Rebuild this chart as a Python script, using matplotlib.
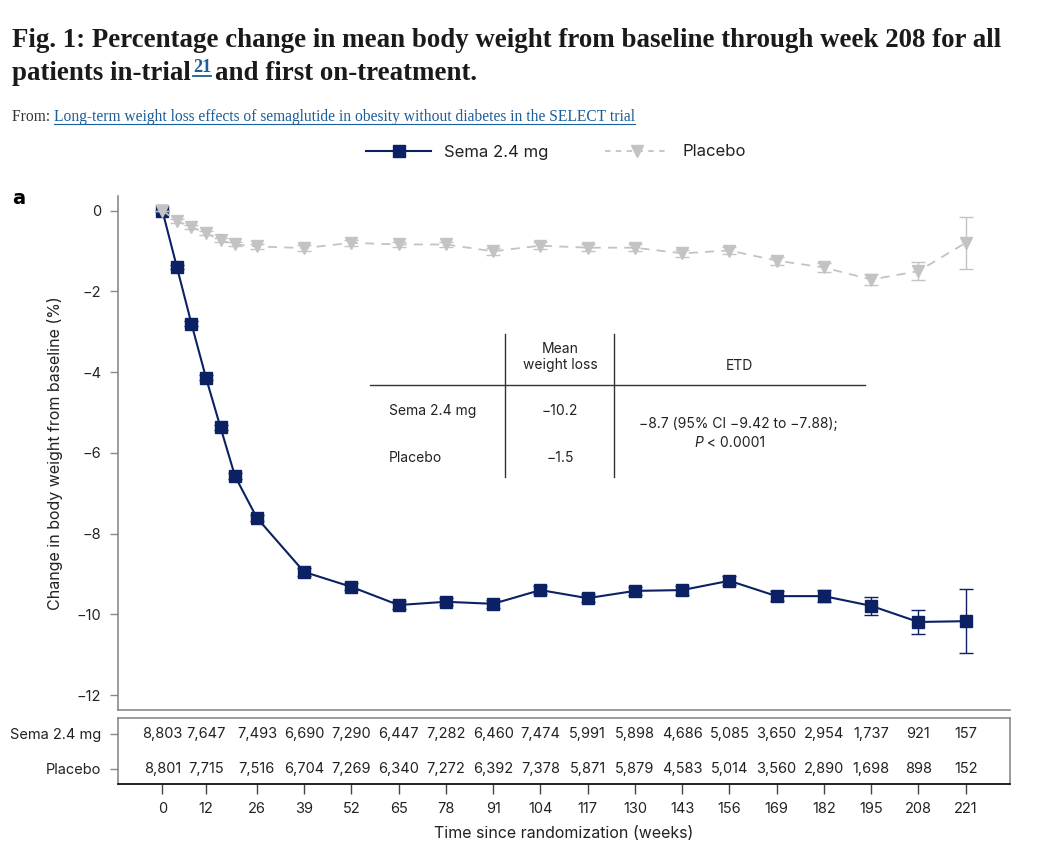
import matplotlib
matplotlib.use("Agg")
import matplotlib.pyplot as plt
from matplotlib.lines import Line2D
import numpy as np

# --- data ---
weeks = [0, 4, 8, 12, 16, 20, 26, 39, 52, 65, 78, 91, 104, 117, 130, 143, 156, 169, 182, 195, 208, 221]
sema = [0.0, -1.40, -2.80, -4.14, -5.37, -6.58, -7.61, -8.95, -9.32, -9.77, -9.69, -9.74,
        -9.40, -9.60, -9.42, -9.40, -9.17, -9.55, -9.55, -9.79, -10.19, -10.17]
sema_err = [0.0, 0.05, 0.06, 0.06, 0.07, 0.07, 0.08, 0.09, 0.09, 0.09, 0.09, 0.10,
            0.10, 0.10, 0.10, 0.11, 0.11, 0.13, 0.14, 0.22, 0.30, 0.80]
placebo = [0.0, -0.26, -0.41, -0.56, -0.73, -0.84, -0.89, -0.93, -0.80, -0.84, -0.84, -1.01,
           -0.87, -0.92, -0.92, -1.06, -0.99, -1.24, -1.41, -1.71, -1.50, -0.80]
placebo_err = [0.0, 0.04, 0.05, 0.05, 0.05, 0.05, 0.06, 0.07, 0.07, 0.07, 0.07, 0.08,
               0.08, 0.08, 0.08, 0.09, 0.09, 0.10, 0.11, 0.14, 0.23, 0.65]

tick_weeks = [0, 12, 26, 39, 52, 65, 78, 91, 104, 117, 130, 143, 156, 169, 182, 195, 208, 221]
n_sema = ["8,803", "7,647", "7,493", "6,690", "7,290", "6,447", "7,282", "6,460", "7,474",
          "5,991", "5,898", "4,686", "5,085", "3,650", "2,954", "1,737", "921", "157"]
n_placebo = ["8,801", "7,715", "7,516", "6,704", "7,269", "6,340", "7,272", "6,392", "7,378",
             "5,871", "5,879", "4,583", "5,014", "3,560", "2,890", "1,698", "898", "152"]
y_ticks = [0, -2, -4, -6, -8, -10, -12]

SEMA_C = "#0b2163"
PLAC_C = "#c3c3c3"
AX_C = "#8a8a8a"
TXT_C = "#222222"
LINK_C = "#1b5e99"

plt.rcParams['font.family'] = ['Inter', 'DejaVu Sans']

W, H = 1051, 858
fig = plt.figure(figsize=(W / 100, H / 100), dpi=100)


def fx(px):
    return px / W


def fy(py):
    return 1 - py / H


def box(l, t, r, b):
    return [fx(l), fy(b), fx(r) - fx(l), fy(t) - fy(b)]


renderer = fig.canvas.get_renderer()


def put(x, y, s, **kw):
    t = fig.text(fx(x), fy(y), s, **kw)
    bb = t.get_window_extent(renderer)
    return t, bb


# --- title ---
serif = ['Liberation Serif', 'DejaVu Serif']
tkw = dict(family=serif, weight='bold', color='#1a1a1a', va='baseline')
line1 = "Fig. 1: Percentage change in mean body weight from baseline through week 208 for all"
t1, bb = put(12, 47, line1, fontsize=19, **tkw)
fs = 19 * 988 / bb.width
t1.set_fontsize(fs)
t2, bb = put(12, 80, "patients in-trial", fontsize=fs, **tkw)
ts, bbs = put(bb.x1 + 2, 72, "21", fontsize=fs * 0.68, family=serif,
              weight='bold', color=LINK_C, va='baseline')
fig.add_artist(Line2D([fx(bbs.x0), fx(bbs.x1)], [fy(75.5), fy(75.5)], color=LINK_C, lw=1.3))
put(bbs.x1 + 4, 80, "and first on-treatment.", fontsize=fs, **tkw)

# --- source line ---
skw = dict(family=serif, fontsize=9.5, va='baseline')
t_from, bb = put(12, 121, "From: ", color='#333333', **skw)
t_link, bbl = put(bb.x1, 121, "Long-term weight loss effects of semaglutide in obesity without diabetes in the SELECT trial",
                  color=LINK_C, **skw)
sfs = 9.5 * 627 / (bbl.x1 - bb.x0)
t_from.set_fontsize(sfs)
bb = t_from.get_window_extent(renderer)
t_link.set_fontsize(sfs)
t_link.set_x(fx(bb.x1))
bbl = t_link.get_window_extent(renderer)
fig.add_artist(Line2D([fx(bbl.x0), fx(bbl.x1)], [fy(124), fy(124)], color=LINK_C, lw=0.8))

# --- main axes ---
ax = fig.add_axes(box(118, 196, 1010, 710))
ax.errorbar(weeks, sema, yerr=sema_err, color=SEMA_C, lw=1.5, marker='s', ms=9,
            capsize=5, elinewidth=1.0, capthick=1.0, zorder=3, label="Sema 2.4 mg")
ax.errorbar(weeks, placebo, yerr=placebo_err, color=PLAC_C, lw=1.3, ls=(0, (5, 4)), marker='v', ms=9,
            capsize=5, elinewidth=1.0, capthick=1.0, zorder=4, label="Placebo")
ax.set_xlim(-12.2, 233.2)
ax.set_ylim(-12.37, 0.36)
ax.set_yticks(y_ticks)
ax.set_yticklabels([str(v).replace('-', '\u2212') for v in y_ticks], fontsize=10.5, color=TXT_C)
ax.set_xticks([])
for s in ['top', 'right']:
    ax.spines[s].set_visible(False)
for s in ['left', 'bottom']:
    ax.spines[s].set_color(AX_C)
    ax.spines[s].set_linewidth(1.2)
ax.tick_params(axis='y', length=6, width=1, color=AX_C, pad=6)

# legend
handles = [
    Line2D([], [], color=SEMA_C, lw=1.5, marker='s', ms=9),
    Line2D([], [], color=PLAC_C, lw=1.3, ls=(0, (3, 3)), marker='v', ms=9),
]
fig.legend(handles, ["Sema 2.4 mg", "Placebo"], loc='center', bbox_to_anchor=(fx(556), fy(152)),
           ncol=2, frameon=False, fontsize=12, handlelength=3.9, handletextpad=0.75,
           columnspacing=3.4, labelcolor=TXT_C)

# panel label
fig.text(fx(12), fy(199), "a", fontsize=14, weight='bold', family='DejaVu Sans', va='center')

# y label
fig.text(fx(55), fy(453), "Change in body weight from baseline (%)", rotation=90,
         ha='center', va='center', fontsize=11.5, color=TXT_C)

# --- inset summary table ---
ikw = dict(fontsize=10, color=TXT_C, va='center')
fig.add_artist(Line2D([fx(505), fx(505)], [fy(334), fy(477)], color='#333333', lw=1))
fig.add_artist(Line2D([fx(614), fx(614)], [fy(334), fy(477)], color='#333333', lw=1))
fig.add_artist(Line2D([fx(370), fx(865)], [fy(385), fy(385)], color='#333333', lw=1))
fig.text(fx(560), fy(357), "Mean\nweight loss", ha='center', linespacing=1.15, **ikw)
fig.text(fx(739), fy(366), "ETD", ha='center', **ikw)
fig.text(fx(389), fy(411), "Sema 2.4 mg", ha='left', **ikw)
fig.text(fx(560), fy(411), "\u221210.2", ha='center', **ikw)
fig.text(fx(389), fy(458), "Placebo", ha='left', **ikw)
fig.text(fx(560), fy(458), "\u22121.5", ha='center', **ikw)
fig.text(fx(738), fy(424), "\u22128.7 (95% CI \u22129.42 to \u22127.88);", ha='center', **ikw)
_, bbp = put(694, 443, "P", style='italic', ha='left', **ikw)
put(bbp.x1, 443, " < 0.0001", ha='left', **ikw)

# --- number-at-risk table axes ---
ax2 = fig.add_axes(box(118, 718, 1010, 784))
ax2.set_xlim(ax.get_xlim())
ax2.set_ylim(-0.43, 1.457)
for w, a, b in zip(tick_weeks, n_sema, n_placebo):
    ax2.text(w, 1, a, ha='center', va='center', fontsize=10.5, color=TXT_C)
    ax2.text(w, 0, b, ha='center', va='center', fontsize=10.5, color=TXT_C)
ax2.set_yticks([1, 0])
ax2.set_yticklabels(["Sema 2.4 mg", "Placebo"], fontsize=10.5, color=TXT_C)
ax2.set_xticks(tick_weeks)
ax2.set_xticklabels([str(w) for w in tick_weeks], fontsize=10.5, color=TXT_C)
for s in ['top', 'left', 'right']:
    ax2.spines[s].set_color(AX_C)
    ax2.spines[s].set_linewidth(1.2)
ax2.spines['bottom'].set_color('#111111')
ax2.spines['bottom'].set_linewidth(1.3)
ax2.tick_params(axis='y', length=6, width=1, color=AX_C, pad=6)
ax2.tick_params(axis='x', length=7, width=1, color='#444444', pad=6)

fig.text(fx(564), fy(834), "Time since randomization (weeks)", ha='center', va='center',
         fontsize=11.5, color=TXT_C)

fig.savefig("out.png", dpi=100)
